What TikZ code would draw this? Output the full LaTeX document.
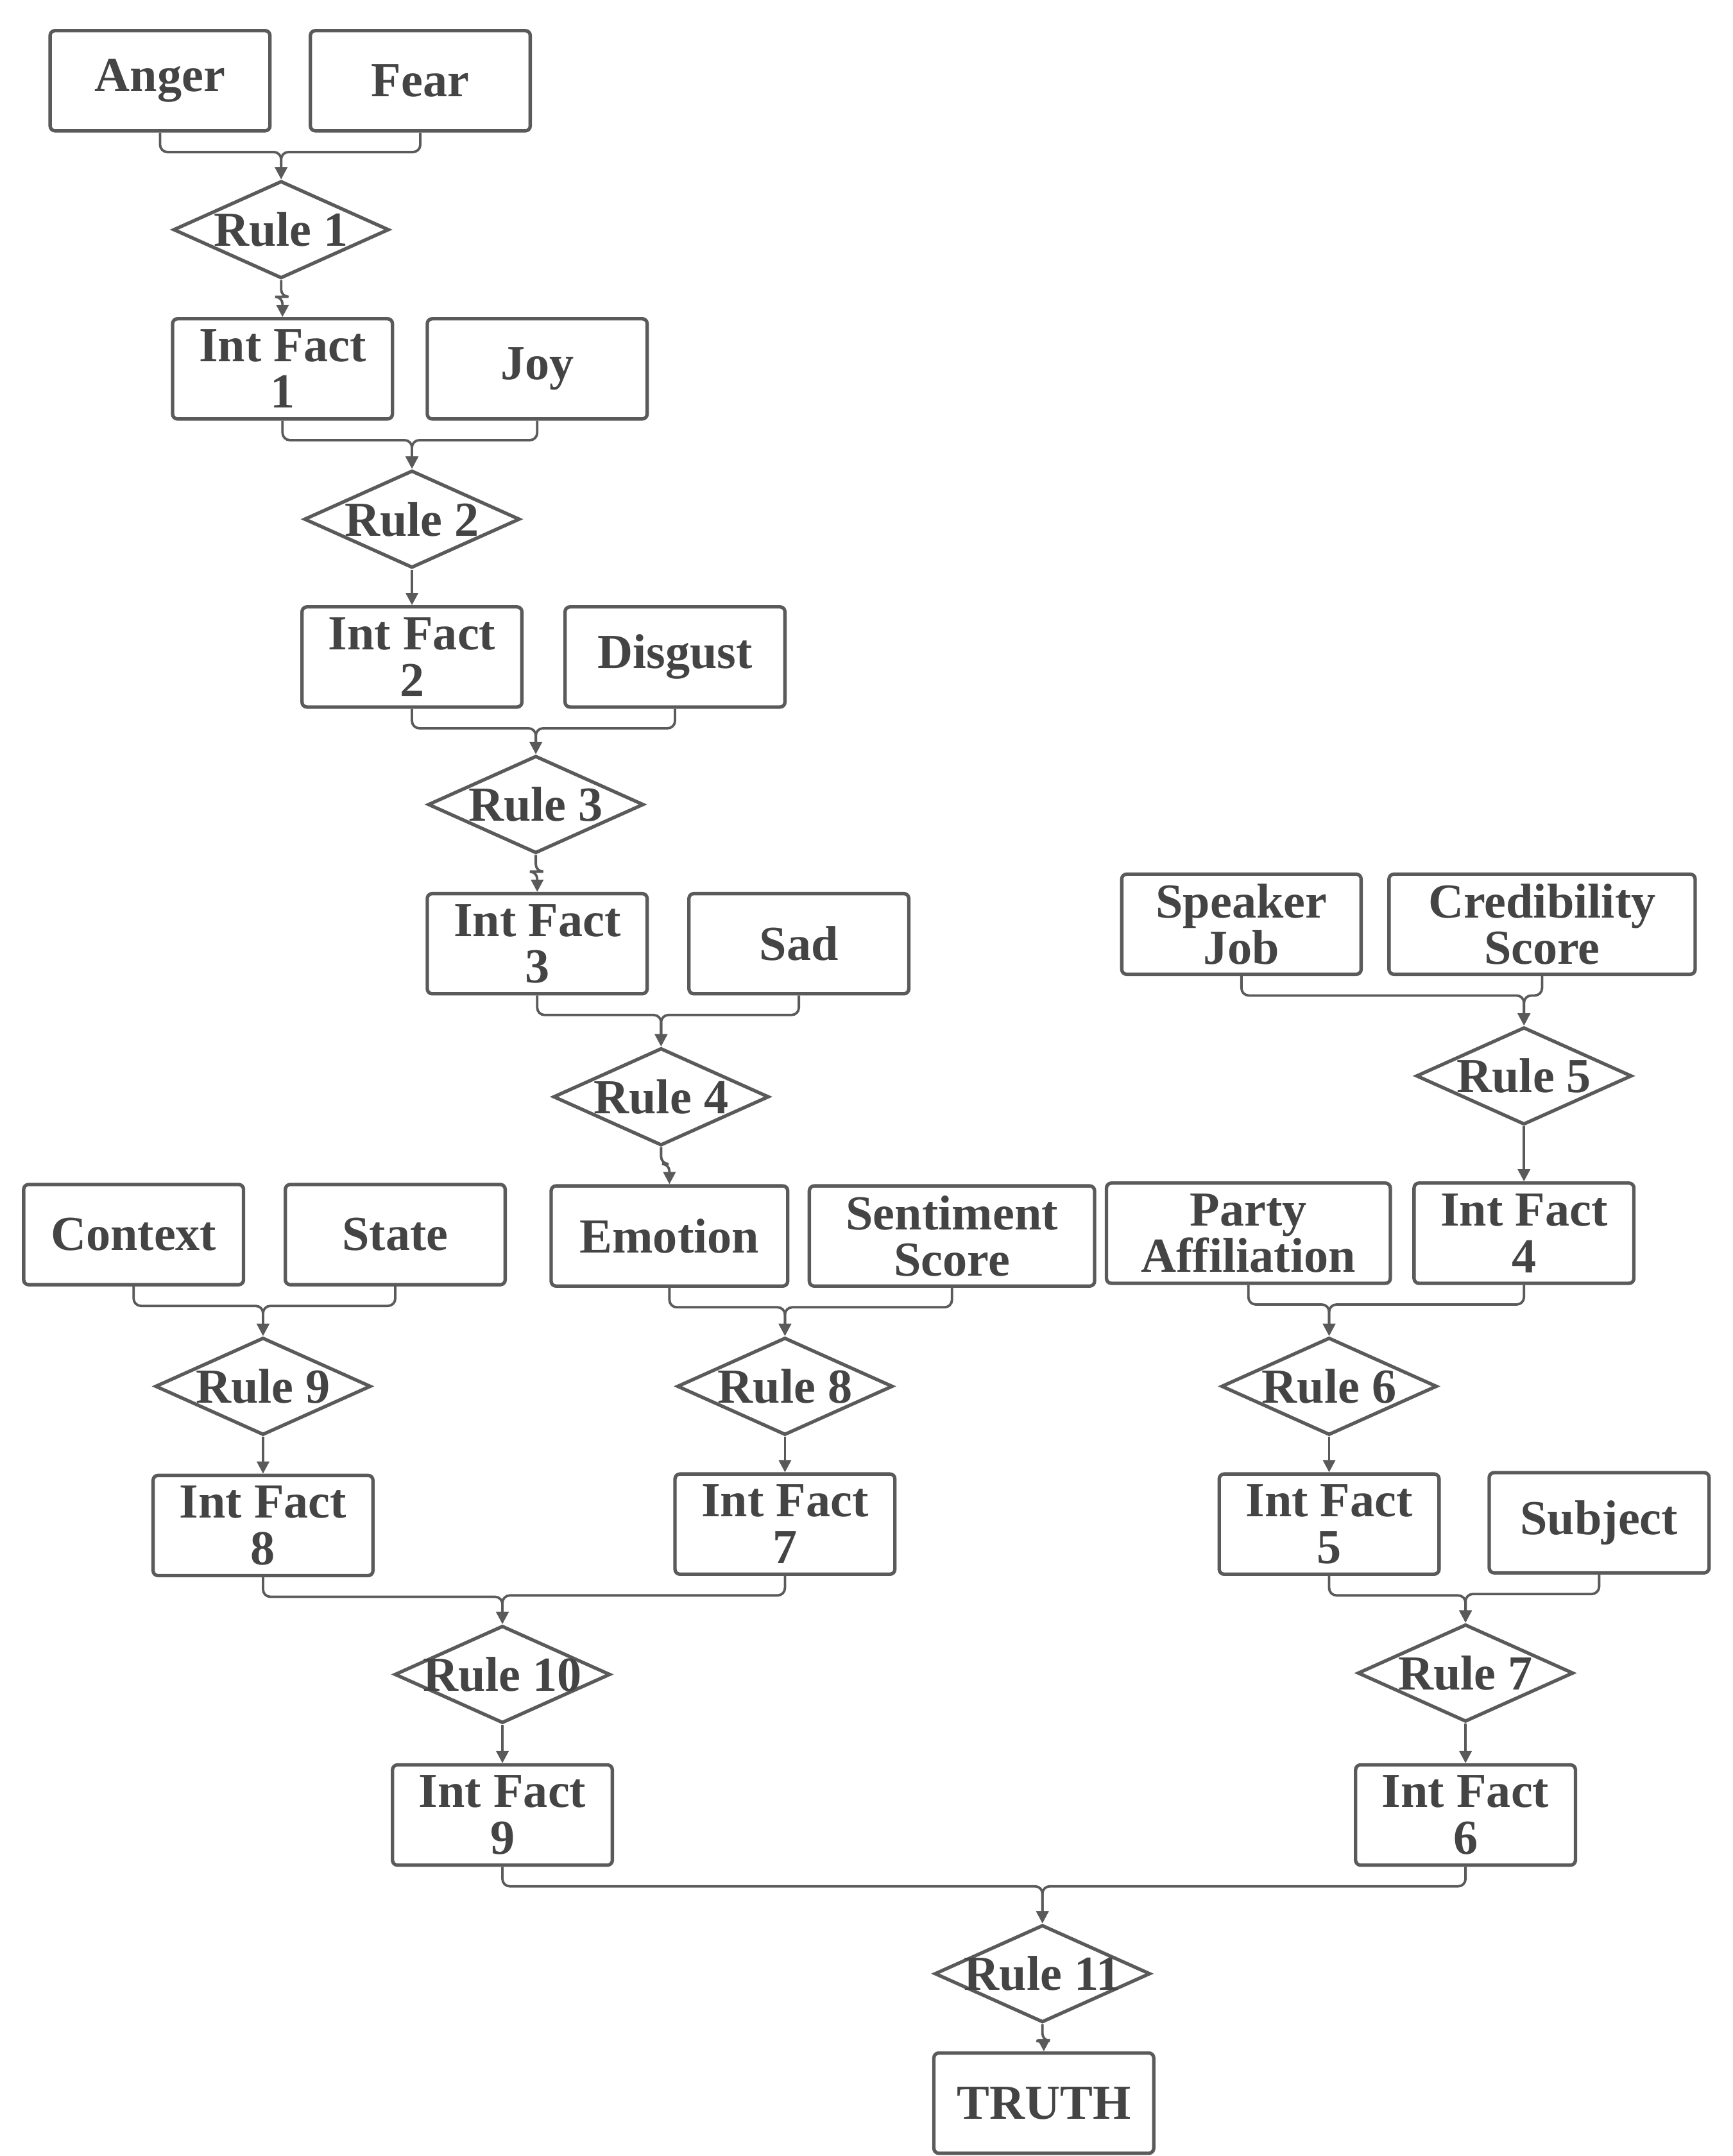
\documentclass[tikz,border=0pt]{standalone}
\usepackage{fontspec}
\setmainfont{Liberation Serif}
\usetikzlibrary{shapes.geometric,arrows.meta}
\definecolor{ink}{HTML}{444444}
\definecolor{ln}{HTML}{5A5A5A}
\begin{document}
\begin{tikzpicture}[x=0.02cm,y=-0.02cm,
  box/.style={draw=ln,line width=1.4pt,rounded corners=2pt,minimum width=3.16cm,minimum height=1.44cm,align=center,inner sep=1pt,text=ink,font=\fontsize{20}{19}\selectfont\bfseries},
  rule/.style={draw=ln,line width=1.4pt,diamond,minimum width=3.1cm,minimum height=1.4cm,inner sep=0pt,label={[text=ink,font=\fontsize{20}{20}\selectfont\bfseries]center:#1}},
  con/.style={draw=ln,line width=1pt,rounded corners=3pt,-{Triangle[length=5pt,width=5pt]}}]
\useasboundingbox (0,0) rectangle (1245,1549);
\node[box] (anger) at (115,58) {Anger};
\node[box] (fear) at (302,58) {Fear};
\node[rule=Rule 1] (r1) at (202,165) {};
\node[box] (if1) at (203,265) {Int Fact\\1};
\node[box] (joy) at (386,265) {Joy};
\node[rule=Rule 2] (r2) at (296,373) {};
\node[box] (if2) at (296,472) {Int Fact\\2};
\node[box] (disg) at (485,472) {Disgust};
\node[rule=Rule 3] (r3) at (385,578) {};
\node[box] (if3) at (386,678) {Int Fact\\3};
\node[box] (sad) at (574,678) {Sad};
\node[rule=Rule 4] (r4) at (475,788) {};
\node[box,minimum width=3.44cm] (sj) at (892,664) {Speaker\\Job};
\node[box,minimum width=4.4cm] (cs) at (1108,664) {Credibility\\Score};
\node[rule=Rule 5] (r5) at (1095,773) {};
\node[box] (ctx) at (96,887) {Context};
\node[box] (state) at (284,887) {State};
\node[box,minimum width=3.4cm] (emo) at (481,888) {Emotion};
\node[box,minimum width=4.1cm] (ss) at (684,888) {Sentiment\\Score};
\node[box,minimum width=4.08cm] (pa) at (897,886) {Party\\Affiliation};
\node[box] (if4) at (1095,886) {Int Fact\\4};
\node[rule=Rule 9] (r9) at (189,996) {};
\node[rule=Rule 8] (r8) at (564,996) {};
\node[rule=Rule 6] (r6) at (955,996) {};
\node[box] (if8) at (189,1096) {Int Fact\\8};
\node[box] (if7) at (564,1095) {Int Fact\\7};
\node[box] (if5) at (955,1095) {Int Fact\\5};
\node[box] (subj) at (1149,1094) {Subject};
\node[rule=Rule 10] (r10) at (361,1203) {};
\node[rule=Rule 7] (r7) at (1053,1202) {};
\node[box] (if9) at (361,1304) {Int Fact\\9};
\node[box] (if6) at (1053,1304) {Int Fact\\6};
\node[rule=Rule 11] (r11) at (749,1418) {};
\node[box] (truth) at (750,1511) {TRUTH};
\foreach \a/\b/\r in {anger/fear/r1, if1/joy/r2, if2/disg/r3, if3/sad/r4, sj/cs/r5, ctx/state/r9, emo/ss/r8, pa/if4/r6, if8/if7/r10, if5/subj/r7, if9/if6/r11}{
  \draw[con] (\a.south) -- ++(0,14) -| (\r.north);
  \draw[con] (\b.south) -- ++(0,14) -| (\r.north);
}
\foreach \r/\b in {r1/if1, r2/if2, r3/if3, r4/emo, r5/if4, r9/if8, r8/if7, r6/if5, r10/if9, r7/if6, r11/truth}{
  \draw[con] (\r.south) -- ++(0,12) -| (\b.north);
}
\end{tikzpicture}
\end{document}
